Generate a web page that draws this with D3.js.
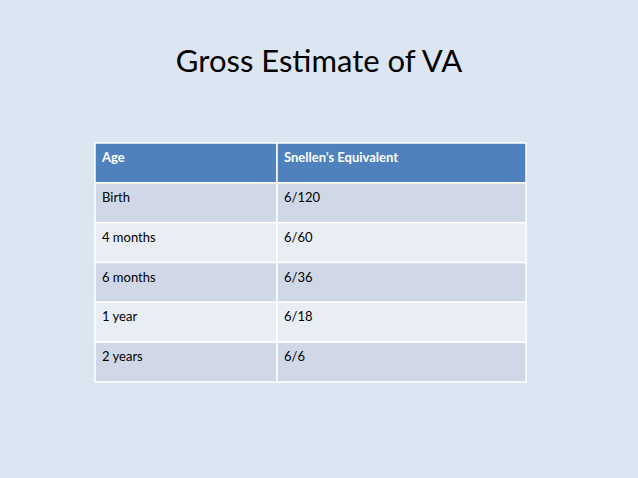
<!DOCTYPE html>
<html><head><meta charset="utf-8">
<script src="https://cdn.jsdelivr.net/npm/d3@7"></script>
<style>body{margin:0;background:#dce6f2;}</style>
</head><body>
<script>
const title = "Gross Estimate of VA";
const headers = ["Age", "Snellen’s Equivalent"];
const ages = ["Birth", "4 months", "6 months", "1 year", "2 years"];
const snellen = ["6/120", "6/60", "6/36", "6/18", "6/6"];

const W = 638, H = 478;
const svg = d3.select("body").append("svg").attr("width", W).attr("height", H);
svg.append("rect").attr("width", W).attr("height", H).attr("fill", "#dce6f2");
svg.append("text").attr("x", 319).attr("y", 72).attr("text-anchor", "middle")
  .attr("font-family", "Lato, 'Open Sans', sans-serif").attr("font-size", 31).attr("fill", "#000").text(title);

const rows = [headers].concat(ages.map((a, i) => [a, snellen[i]]));
const y = d3.scaleBand().domain(d3.range(rows.length)).range([143, 382]);
const x = d3.scaleOrdinal().domain([0, 1]).range([95, 277]);
const wcol = [182, 249];
rows.forEach((r, i) => {
  r.forEach((t, j) => {
    const fill = i === 0 ? "#4f81bd" : (i % 2 ? "#d0d8e8" : "#e9edf4");
    svg.append("rect").attr("x", x(j)).attr("y", y(i)).attr("width", wcol[j]).attr("height", y.bandwidth())
      .attr("fill", fill).attr("stroke", "#fff").attr("stroke-width", 1.5);
    svg.append("text").attr("x", x(j) + 7).attr("y", y(i) + 19)
      .attr("font-family", "Lato, 'Open Sans', sans-serif").attr("font-size", 13)
      .attr("font-weight", i === 0 ? "bold" : "normal")
      .attr("fill", i === 0 ? "#fff" : "#000").text(t);
  });
});
</script>
</body></html>
